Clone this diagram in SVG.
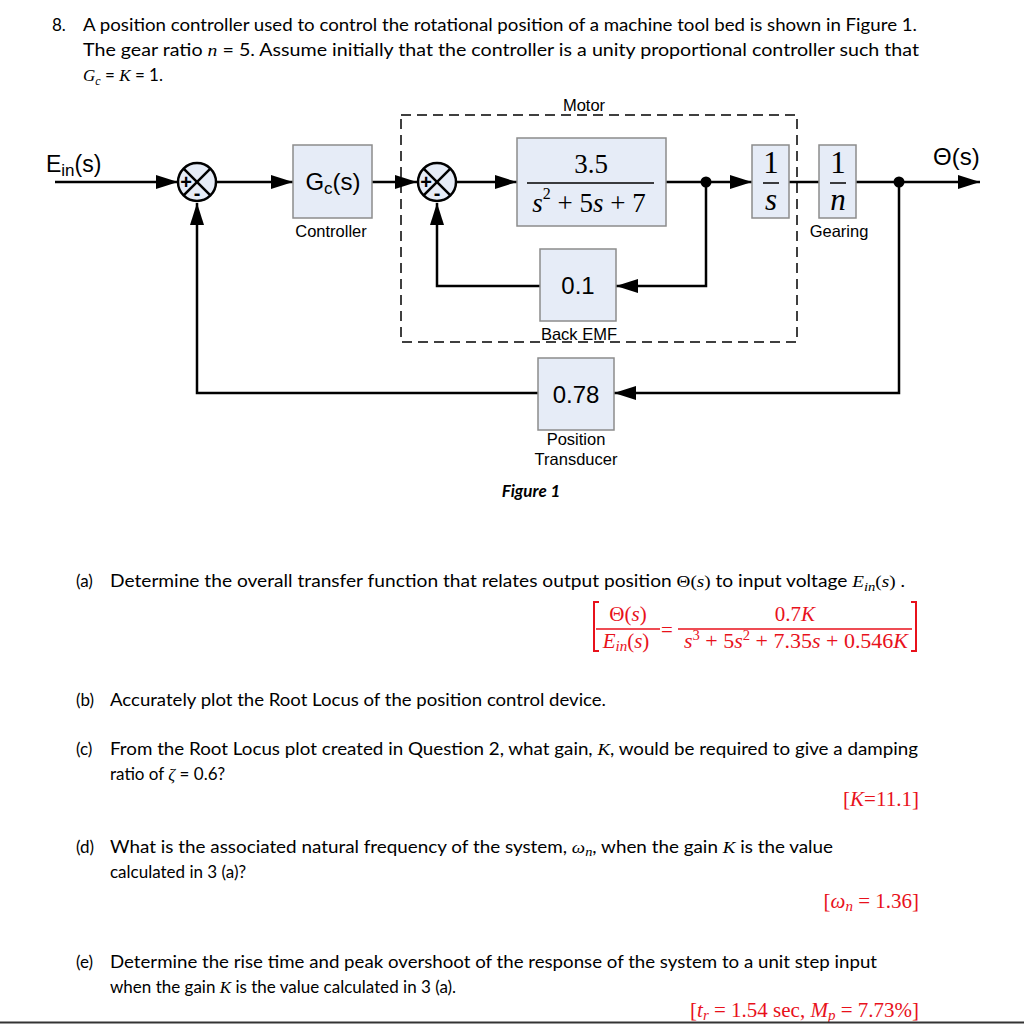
<svg xmlns="http://www.w3.org/2000/svg" width="1024" height="1024" viewBox="0 0 1024 1024">
<defs>
<marker id="arr" markerUnits="userSpaceOnUse" markerWidth="22" markerHeight="14" refX="22" refY="7" orient="auto">
<path d="M0,0 L22,7 L0,14 z" fill="#000"/>
</marker>
</defs>
<style>
.q{font-family:Lato,"Open Sans","Liberation Sans",sans-serif;font-size:17px;fill:#000}
.m{font-family:"Liberation Serif","DejaVu Serif",serif;font-style:italic}
.mr{font-family:"Liberation Serif","DejaVu Serif",serif;font-style:normal}
.red{font-family:"Liberation Serif","DejaVu Serif",serif;font-size:21px;fill:#e8111b}
.blk{fill:#e6ecf7;stroke:#8c8c8c;stroke-width:1.5}
.lbl{font-family:"Liberation Sans",Arial,sans-serif;font-size:16.5px;fill:#000;text-anchor:middle}
.big{font-family:"Liberation Sans",Arial,sans-serif;font-size:24px;fill:#000;text-anchor:middle}
.tm{font-family:"Liberation Serif","Times New Roman",serif;font-size:27px;fill:#000;text-anchor:middle}
.tb{font-family:"Liberation Serif","Times New Roman",serif;font-size:31px;fill:#000;text-anchor:middle}
.ln{fill:none;stroke:#000;stroke-width:2.5}
.sum{fill:#e6ecf7;stroke:#000;stroke-width:2.5}
.sg{font-family:"Liberation Sans",Arial,sans-serif;font-size:20px;font-weight:bold;text-anchor:middle}
</style>
<rect width="1024" height="1024" fill="#fff"/>

<!-- Problem statement -->
<text class="q" x="52" y="31">8.</text>
<text class="q" x="83" y="31" textLength="834" lengthAdjust="spacingAndGlyphs">A position controller used to control the rotational position of a machine tool bed is shown in Figure 1.</text>
<text class="q" x="83" y="56" textLength="836" lengthAdjust="spacingAndGlyphs">The gear ratio <tspan class="m">n</tspan> = 5. Assume initially that the controller is a unity proportional controller such that</text>
<text class="q" x="83" y="81"><tspan class="m">G</tspan><tspan class="m" font-size="12" dy="4">c</tspan><tspan dy="-4"> = </tspan><tspan class="m">K</tspan> = 1.</text>

<!-- Motor dashed box -->
<g id="motor-box">
<rect x="401" y="115" width="396" height="227" fill="none" stroke="#000" stroke-width="1.5" stroke-dasharray="10,6"/>
<text class="lbl" x="584" y="111">Motor</text>
</g>

<!-- Connectors -->
<g id="connectors">
<line class="ln" x1="55" y1="182" x2="178" y2="182" marker-end="url(#arr)"/>
<line class="ln" x1="217" y1="182" x2="293" y2="182" marker-end="url(#arr)"/>
<line class="ln" x1="372" y1="182" x2="417" y2="182" marker-end="url(#arr)"/>
<line class="ln" x1="457" y1="182" x2="517" y2="182" marker-end="url(#arr)"/>
<line class="ln" x1="666" y1="182" x2="752" y2="182" marker-end="url(#arr)"/>
<line class="ln" x1="789" y1="182" x2="819" y2="182"/>
<line class="ln" x1="856" y1="182" x2="980" y2="182" marker-end="url(#arr)"/>
<polyline class="ln" points="706,182 706,286 616,286" marker-end="url(#arr)"/>
<polyline class="ln" points="540,286 437,286 437,203" marker-end="url(#arr)"/>
<polyline class="ln" points="899,182 899,393 614,393" marker-end="url(#arr)"/>
<polyline class="ln" points="538,393 197,393 197,203" marker-end="url(#arr)"/>
<circle cx="706" cy="182" r="5.5" fill="#000"/>
<circle cx="899" cy="182" r="5.5" fill="#000"/>
</g>

<text id="ein-label" font-family="Liberation Sans,Arial,sans-serif" font-size="23" x="46" y="172">E<tspan font-size="17" dy="4">in</tspan><tspan dy="-4">(s)</tspan></text>
<text id="theta-label" font-family="Liberation Sans,Arial,sans-serif" font-size="24" x="933" y="165">Θ(s)</text>

<g id="sum1">
<circle class="sum" cx="197" cy="182" r="19"/>
<line x1="183.6" y1="168.6" x2="210.4" y2="195.4" stroke="#000" stroke-width="2.5"/>
<line x1="210.4" y1="168.6" x2="183.6" y2="195.4" stroke="#000" stroke-width="2.5"/>
<text class="sg" x="186" y="189">+</text>
<text class="sg" x="197" y="200">-</text>
</g>

<g id="sum2">
<circle class="sum" cx="437" cy="182" r="19"/>
<line x1="423.6" y1="168.6" x2="450.4" y2="195.4" stroke="#000" stroke-width="2.5"/>
<line x1="450.4" y1="168.6" x2="423.6" y2="195.4" stroke="#000" stroke-width="2.5"/>
<text class="sg" x="426" y="189">+</text>
<text class="sg" x="437" y="200">-</text>
</g>

<g id="controller">
<rect class="blk" x="293" y="145" width="79" height="73"/>
<text class="big" x="333" y="190">G<tspan font-size="17" dy="4">c</tspan><tspan dy="-4">(s)</tspan></text>
<text class="lbl" x="331" y="237">Controller</text>
</g>

<g id="motor-tf">
<rect class="blk" x="517" y="138" width="149" height="88"/>
<text class="tm" x="591" y="173">3.5</text>
<line x1="527" y1="183" x2="654" y2="183" stroke="#000" stroke-width="1.5"/>
<text class="tm" x="589" y="212"><tspan font-style="italic">s</tspan><tspan font-size="16" dy="-13">2</tspan><tspan dy="13"> + 5</tspan><tspan font-style="italic">s</tspan> + 7</text>
</g>

<g id="integrator">
<rect class="blk" x="752" y="145" width="37" height="73"/>
<text class="tb" x="771" y="173">1</text>
<line x1="763" y1="183" x2="779" y2="183" stroke="#000" stroke-width="1.5"/>
<text class="tb" x="771" y="210" font-style="italic">s</text>
</g>

<g id="gearing">
<rect class="blk" x="819" y="145" width="37" height="73"/>
<text class="tb" x="838" y="173">1</text>
<line x1="830" y1="183" x2="846" y2="183" stroke="#000" stroke-width="1.5"/>
<text class="tb" x="838" y="210" font-style="italic">n</text>
<text class="lbl" x="839" y="237">Gearing</text>
</g>

<g id="back-emf">
<rect class="blk" x="540" y="249" width="76" height="72"/>
<text class="big" x="578" y="294">0.1</text>
<text class="lbl" x="579" y="340">Back EMF</text>
</g>

<g id="transducer">
<rect class="blk" x="538" y="358" width="76" height="72"/>
<text class="big" x="576" y="403">0.78</text>
<text class="lbl" x="576" y="445">Position</text>
<text class="lbl" x="576" y="465">Transducer</text>
</g>

<text x="531" y="497" font-family="Lato,'Open Sans','Liberation Sans',sans-serif" font-size="17" font-weight="bold" font-style="italic" text-anchor="middle">Figure 1</text>

<!-- (a) -->
<text class="q" x="76" y="587">(a)</text>
<text class="q" x="110" y="587" textLength="795" lengthAdjust="spacingAndGlyphs">Determine the overall transfer function that relates output position <tspan class="mr">Θ(</tspan><tspan class="m">s</tspan><tspan class="mr">)</tspan> to input voltage <tspan class="m">E<tspan font-size="13" dy="4">in</tspan></tspan><tspan class="mr" dy="-4">(</tspan><tspan class="m">s</tspan><tspan class="mr">)</tspan> .</text>

<g id="eq-a" fill="none" stroke="#e8111b" stroke-width="2">
<polyline points="599,602 594,602 594,651 599,651"/>
<polyline points="911,602 916,602 916,651 911,651"/>
<line x1="596" y1="629" x2="660" y2="629" stroke-width="1.5"/>
<line x1="678" y1="629" x2="912" y2="629" stroke-width="1.5"/>
</g>
<text class="red" x="628" y="621" text-anchor="middle">Θ(<tspan font-style="italic">s</tspan>)</text>
<text class="red" x="626" y="648" text-anchor="middle"><tspan font-style="italic">E</tspan><tspan font-style="italic" font-size="15" dy="3">in</tspan><tspan dy="-3">(</tspan><tspan font-style="italic">s</tspan>)</text>
<text class="red" x="667" y="637" text-anchor="middle">=</text>
<text class="red" x="795" y="621" text-anchor="middle">0.7<tspan font-style="italic">K</tspan></text>
<text class="red" x="796" y="648" text-anchor="middle" textLength="224" lengthAdjust="spacingAndGlyphs"><tspan font-style="italic">s</tspan><tspan font-size="14" dy="-8">3</tspan><tspan dy="8"> + 5</tspan><tspan font-style="italic">s</tspan><tspan font-size="14" dy="-8">2</tspan><tspan dy="8"> + 7.35</tspan><tspan font-style="italic">s</tspan> + 0.546<tspan font-style="italic">K</tspan></text>

<!-- (b) -->
<text class="q" x="76" y="706">(b)</text>
<text class="q" x="110" y="706" textLength="496" lengthAdjust="spacingAndGlyphs">Accurately plot the Root Locus of the position control device.</text>

<!-- (c) -->
<text class="q" x="76" y="755">(c)</text>
<text class="q" x="110" y="755" textLength="808" lengthAdjust="spacingAndGlyphs">From the Root Locus plot created in Question 2, what gain, <tspan class="m">K</tspan>, would be required to give a damping</text>
<text class="q" x="110" y="780">ratio of <tspan class="m">ζ</tspan> = 0.6?</text>
<text class="red" x="919" y="806" text-anchor="end" textLength="76" lengthAdjust="spacingAndGlyphs">[<tspan font-style="italic">K</tspan>=11.1]</text>

<!-- (d) -->
<text class="q" x="76" y="853">(d)</text>
<text class="q" x="110" y="853" textLength="723" lengthAdjust="spacingAndGlyphs">What is the associated natural frequency of the system, <tspan class="m">ω<tspan font-size="13" dy="3">n</tspan></tspan><tspan dy="-3">,</tspan> when the gain <tspan class="m">K</tspan> is the value</text>
<text class="q" x="110" y="878">calculated in 3 (a)?</text>
<text class="red" x="919" y="908" text-anchor="end">[<tspan font-style="italic">ω</tspan><tspan font-style="italic" font-size="15" dy="3">n</tspan><tspan dy="-3"> = 1.36]</tspan></text>

<!-- (e) -->
<text class="q" x="76" y="968">(e)</text>
<text class="q" x="110" y="968" textLength="767" lengthAdjust="spacingAndGlyphs">Determine the rise time and peak overshoot of the response of the system to a unit step input</text>
<text class="q" x="110" y="993">when the gain <tspan class="m">K</tspan> is the value calculated in 3 (a).</text>
<text class="red" x="919" y="1017" text-anchor="end">[<tspan font-style="italic">t</tspan><tspan font-style="italic" font-size="15" dy="3">r</tspan><tspan dy="-3"> = 1.54 sec, </tspan><tspan font-style="italic">M</tspan><tspan font-style="italic" font-size="15" dy="3">p</tspan><tspan dy="-3"> = 7.73%]</tspan></text>

<line x1="0" y1="1022.5" x2="1024" y2="1022.5" stroke="#333" stroke-width="2"/>
</svg>
